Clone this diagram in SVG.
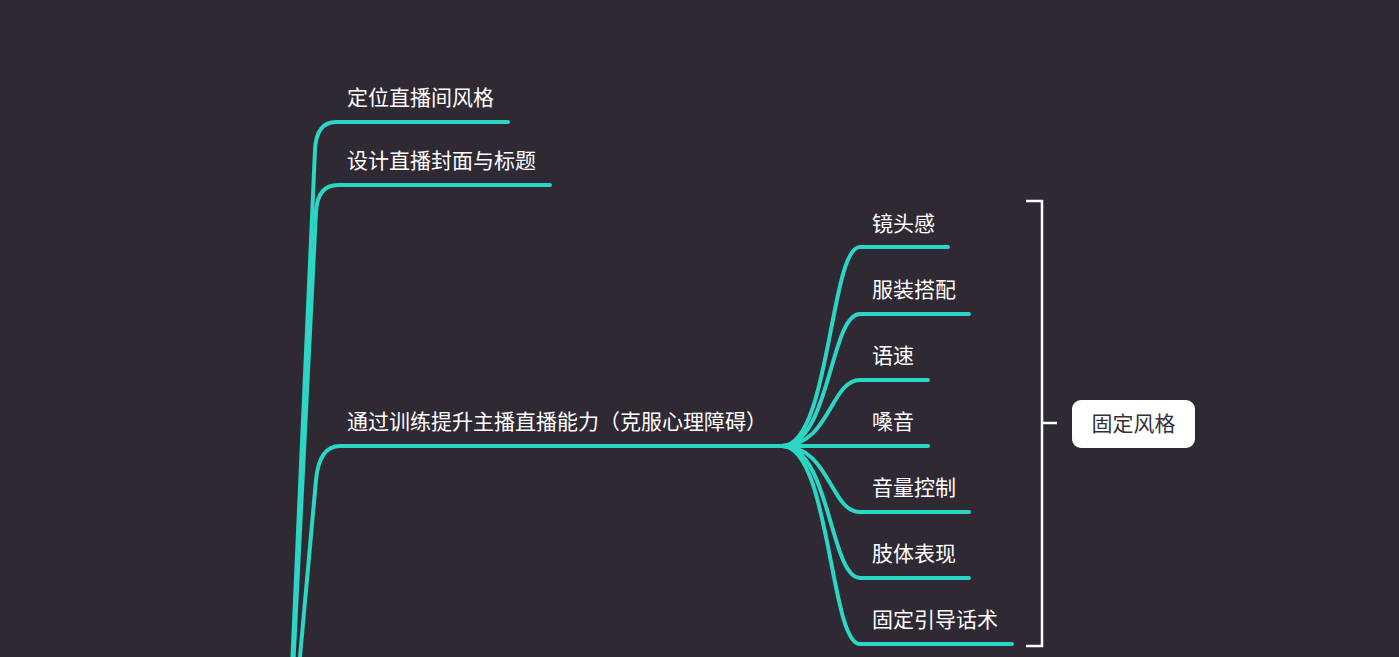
<svg xmlns="http://www.w3.org/2000/svg" width="1399" height="657" viewBox="0 0 1399 657">
<style>
.br{fill:none;stroke:#2cd6c4;stroke-width:4;stroke-linecap:round;stroke-linejoin:round}
.lb{font-family:"Noto Sans CJK SC","Noto Sans",sans-serif;font-size:21px;fill:#ffffff}
.bk{fill:none;stroke:#ffffff;stroke-width:2.5}
.box{fill:#ffffff}
.bt{font-family:"Noto Sans CJK SC","Noto Sans",sans-serif;font-size:21px;fill:#333333;text-anchor:middle}
</style>
<rect x="0" y="0" width="1399" height="657" fill="#2f2934"/>
<g id="connectors">
<path class="br" d="M291 690 L315 150 Q316.3 122 336 122 L508 122"/>
<path class="br" d="M292 690 L316 212 Q317.4 185 338 185 L550 185"/>
<path class="br" d="M297 690 L316 480 Q319.2 446 340 446 L785 446"/>
<path class="br" d="M782 446 C830 446 830 247 860 247 L948 247"/>
<path class="br" d="M782 446 C830 446 830 314 860 314 L969 314"/>
<path class="br" d="M782 446 C830 446 830 380 860 380 L928 380"/>
<path class="br" d="M782 446 L928 446"/>
<path class="br" d="M782 446 C830 446 830 512 860 512 L969 512"/>
<path class="br" d="M782 446 C830 446 830 578 860 578 L969 578"/>
<path class="br" d="M782 446 C830 446 830 644 860 644 L1012 644"/>
<path class="bk" d="M1026 201 H1042 V646 H1026 M1042 423 H1057"/>
</g>
<g id="n1"><text class="lb" x="347" y="105">定位直播间风格</text></g>
<g id="n2"><text class="lb" x="347" y="168">设计直播封面与标题</text></g>
<g id="n3"><text class="lb" x="347" y="429">通过训练提升主播直播能力（克服心理障碍）</text></g>
<g id="s1"><text class="lb" x="872" y="231">镜头感</text></g>
<g id="s2"><text class="lb" x="872" y="297">服装搭配</text></g>
<g id="s3"><text class="lb" x="872" y="363">语速</text></g>
<g id="s4"><text class="lb" x="872" y="429">嗓音</text></g>
<g id="s5"><text class="lb" x="872" y="495">音量控制</text></g>
<g id="s6"><text class="lb" x="872" y="561">肢体表现</text></g>
<g id="s7"><text class="lb" x="872" y="627">固定引导话术</text></g>
<g id="summary"><rect class="box" x="1072" y="400" width="123" height="48" rx="9"/><text class="bt" x="1133.5" y="431">固定风格</text></g>
</svg>
